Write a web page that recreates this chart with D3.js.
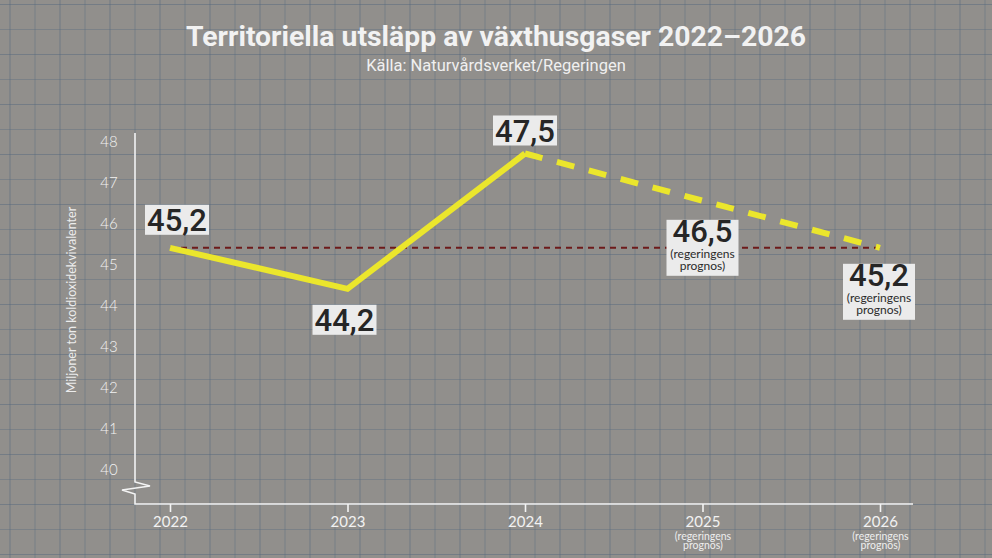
<!DOCTYPE html>
<html>
<head>
<meta charset="utf-8">
<script src="https://cdn.jsdelivr.net/npm/d3@7"></script>
<style>
    html, body { margin: 0; padding: 0; background: #8e8d8a; }
    svg { display: block; }
</style>
</head>
<body>
<svg id="svg-main" width="992" height="558"></svg>
<script>
// data
var years = ["2022", "2023", "2024", "2025", "2026"];
var yearNotes = ["", "", "", "(regeringens prognos)", "(regeringens prognos)"];
var actualYears = ["2022", "2023", "2024"];
var actualValues = [45.2, 44.2, 47.5];
var forecastYears = ["2024", "2026"];
var forecastValues = [47.5, 45.2];
var refLevel = 45.2;
var yTicks = [40, 41, 42, 43, 44, 45, 46, 47, 48];
var labelYears = ["2022", "2023", "2024", "2025", "2026"];
var labelTexts = ["45,2", "44,2", "47,5", "46,5", "45,2"];
var labelNotes = ["", "", "", "(regeringens prognos)", "(regeringens prognos)"];

var svg = d3.select("svg"),
    width = 992,
    height = 558;

// paper background + grid
svg.append("rect").attr("width", width).attr("height", height).attr("fill", "#918f8c");
var grid = svg.append("g").attr("class", "grid");
grid.selectAll("line.v")
    .data(d3.range(10, width, 25))
    .enter().append("line")
    .attr("x1", function (d) { return d; })
    .attr("x2", function (d) { return d; })
    .attr("y1", 0).attr("y2", height)
    .attr("stroke", "#52667d")
    .attr("stroke-opacity", function (d, i) { return i % 2 ? 0.38 : 0.5; })
    .attr("stroke-width", 1);
grid.selectAll("line.h")
    .data(d3.range(4.5, height, 25))
    .enter().append("line")
    .attr("y1", function (d) { return d; })
    .attr("y2", function (d) { return d; })
    .attr("x1", 0).attr("x2", width)
    .attr("stroke", "#52667d")
    .attr("stroke-opacity", function (d, i) { return i % 2 ? 0.35 : 0.45; })
    .attr("stroke-width", 1);

// title
svg.append("text")
    .attr("x", 496).attr("y", 46)
    .attr("text-anchor", "middle")
    .attr("font-family", "Roboto, sans-serif")
    .attr("font-weight", 700)
    .attr("font-size", 28)
    .attr("textLength", 620)
    .attr("lengthAdjust", "spacingAndGlyphs")
    .attr("fill", "#f2f2f2")
    .text("Territoriella utsläpp av växthusgaser 2022–2026");
svg.append("text")
    .attr("x", 496).attr("y", 71)
    .attr("text-anchor", "middle")
    .attr("font-family", "Roboto, sans-serif")
    .attr("font-size", 16.5)
    .attr("fill", "#f0f0f0")
    .text("Källa: Naturvårdsverket/Regeringen");

// scales
var x = d3.scalePoint().domain(years).range([170, 880]);
var y = d3.scaleLinear().domain([40, 48]).range([461, 133]);

// y axis (labels sit a little below their level)
var yAxis = svg.append("g")
    .attr("transform", "translate(123,8.5)")
    .call(d3.axisLeft(y).tickValues(yTicks).tickSize(0).tickPadding(0));
yAxis.select(".domain").remove();
yAxis.selectAll("text")
    .attr("x", -14)
    .attr("text-anchor", "middle")
    .attr("font-family", "Lato, sans-serif")
    .attr("font-weight", 300)
    .attr("font-size", 15)
    .attr("fill", "#f2f2f2");

svg.append("path")
    .attr("d", "M135," + y(48) + " L135,482 L150,486 L122,490 L135,494 L135,504 L913,504")
    .attr("fill", "none")
    .attr("stroke", "#f4f4f4")
    .attr("stroke-width", 1.6)
    .attr("stroke-linejoin", "miter");

svg.append("text")
    .attr("transform", "translate(76,300) rotate(-90)")
    .attr("text-anchor", "middle")
    .attr("font-family", "Lato, sans-serif")
    .attr("font-size", 12.5)
    .attr("fill", "#ececec")
    .text("Miljoner ton koldioxidekvivalenter");

// x axis
var xAxis = svg.append("g")
    .attr("transform", "translate(0,504)")
    .call(d3.axisBottom(x).tickSize(8).tickSizeOuter(0).tickPadding(4));
xAxis.select(".domain").remove();
xAxis.selectAll("line").attr("stroke", "#f4f4f4").attr("stroke-width", 1.6);
xAxis.selectAll("text")
    .attr("font-family", "Lato, sans-serif")
    .attr("font-size", 15)
    .attr("fill", "#f2f2f2");
// forecast notes go in the same text as the year
xAxis.selectAll(".tick text").each(function (d, i) {
    if (!yearNotes[i]) return;
    var t = d3.select(this);
    yearNotes[i].split(" ").forEach(function (p, k) {
        t.append("tspan")
            .attr("x", 0)
            .attr("dy", k === 0 ? 13 : 9.5)
            .attr("font-size", 10.5)
            .attr("fill", "#eeeeee")
            .text(p);
    });
});

// reference level
svg.append("line")
    .attr("x1", x("2022")).attr("x2", x("2026"))
    .attr("y1", y(refLevel)).attr("y2", y(refLevel))
    .attr("stroke", "#6d1a1a")
    .attr("stroke-width", 2)
    .attr("stroke-dasharray", "6,5");

// lines
var line = d3.line()
    .x(function (d) { return x(d[0]); })
    .y(function (d) { return y(d[1]); });

svg.append("path")
    .datum(d3.zip(forecastYears, forecastValues))
    .attr("d", line)
    .attr("fill", "none")
    .attr("stroke", "#ebe62c")
    .attr("stroke-width", 6)
    .attr("stroke-dasharray", "18,15");

svg.append("path")
    .datum(d3.zip(actualYears, actualValues))
    .attr("d", line)
    .attr("fill", "none")
    .attr("stroke", "#ebe62c")
    .attr("stroke-width", 6)
    .attr("stroke-linejoin", "miter");

// value labels
var pointValue = {"2022": 45.2, "2023": 44.2, "2024": 47.5, "2025": refLevel, "2026": 45.2};
var boxOffsets = [[7, -28], [-3, 31], [0, -23], [0, 0], [-1, 44]];

labelTexts.forEach(function (t, i) {
    var cx = x(labelYears[i]) + boxOffsets[i][0];
    var cy = y(pointValue[labelYears[i]]) + boxOffsets[i][1];
    var note = labelNotes[i];
    var w = note ? 72 : 64;
    var h = note ? 56 : 30;
    var g = svg.append("g").attr("transform", "translate(" + cx + "," + cy + ")");
    g.append("rect")
        .attr("x", -w / 2).attr("y", -h / 2)
        .attr("width", w).attr("height", h)
        .attr("fill", "#ebebeb");
    var txt = g.append("text")
        .attr("y", note ? -6 : 11.5)
        .attr("text-anchor", "middle")
        .attr("font-family", "Roboto, sans-serif")
        .attr("font-weight", 500)
        .attr("font-size", 31)
        .attr("fill", "#262626")
        .text(t);
    if (note) {
        note.split(" ").forEach(function (p, k) {
            txt.append("tspan")
                .attr("x", 0)
                .attr("dy", k === 0 ? 16.5 : 12)
                .attr("font-family", "Lato, sans-serif")
                .attr("font-weight", 400)
                .attr("font-size", 12)
                .attr("fill", "#2a2a2a")
                .text(p);
        });
    }
});
</script>
</body>
</html>
